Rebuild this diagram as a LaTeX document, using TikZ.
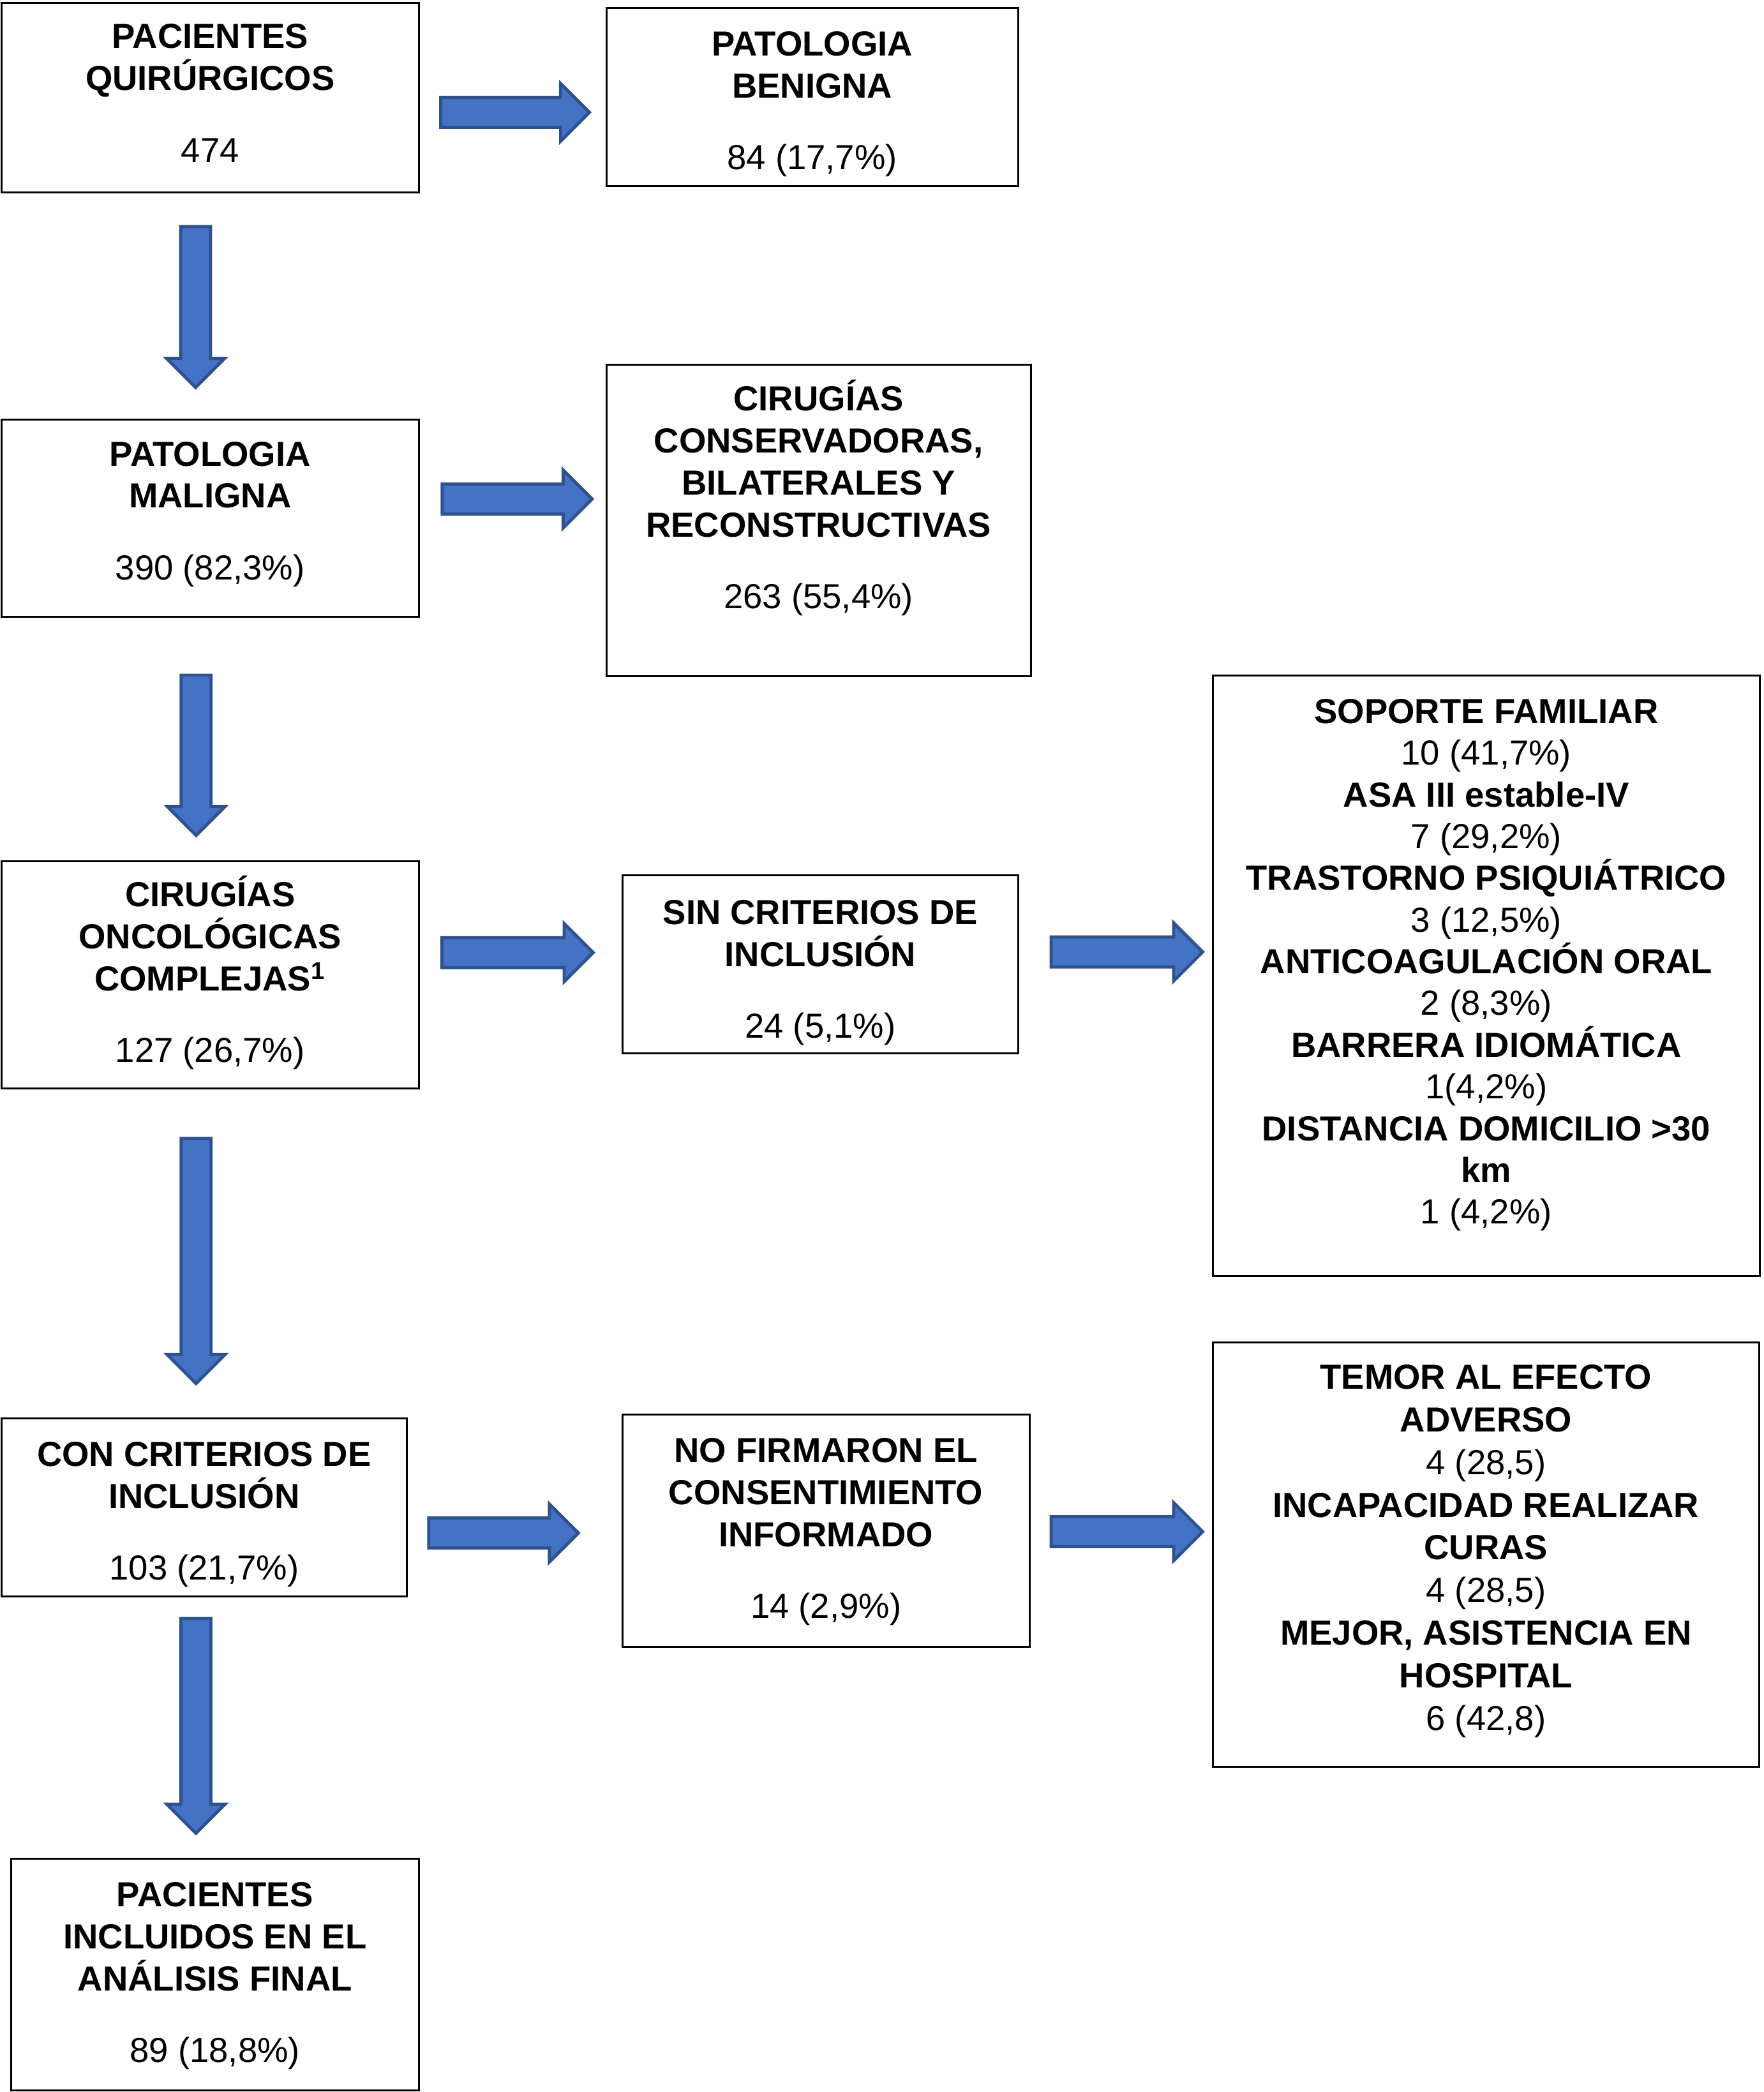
\documentclass[tikz,border=0pt]{standalone}
\usepackage{fontspec}
\setmainfont{Liberation Sans}
\usepackage{tikz}
\usetikzlibrary{positioning, shapes.arrows}
\usepackage{xcolor}
\definecolor{arrowblue}{HTML}{4472C4}
\definecolor{arrowedge}{HTML}{2F528F}

\begin{document}
\begin{tikzpicture}[
    x=0.020908cm, y=-0.020908cm,
    box/.style={rectangle, draw=black, line width=0.85pt, inner sep=0pt},
    txt/.style={align=center, inner sep=0pt, font=\fontsize{15.5}{18.75}\selectfont},
    rarrow/.style={single arrow, draw=arrowedge, fill=arrowblue, line width=1.4pt, inner xsep=0pt, inner ysep=0.21cm, single arrow head extend=0.22cm, minimum height=2.35cm},
    darrow/.style={rarrow, rotate=-90}
]
    \useasboundingbox (0,0) rectangle (1322,1568);

    % Left column
    \node[box, minimum width=6.544cm, minimum height=2.969cm] (quir) at (157.5,73) {};
    \node[txt, below=0.345cm of quir.north] (quirtxt) {\textbf{PACIENTES}\\\textbf{QUIRÚRGICOS}\\[13.2pt]474};

    \node[box, minimum width=6.544cm, minimum height=3.092cm] (malig) at (157.5,388.35) {};
    \node[txt, below=0.355cm of malig.north] (maligtxt) {\textbf{PATOLOGIA}\\\textbf{MALIGNA}\\[13.2pt]390 (82,3\%)};

    \node[box, minimum width=6.544cm, minimum height=3.561cm] (compl) at (157.5,730.85) {};
    \node[txt, below=0.235cm of compl.north] (compltxt) {\textbf{CIRUGÍAS}\\\textbf{ONCOLÓGICAS}\\\textbf{COMPLEJAS\textsuperscript{1}}\\[13.2pt]127 (26,7\%)};

    \node[box, minimum width=6.356cm, minimum height=2.795cm] (concrit) at (153,1129.85) {};
    \node[txt, below=0.380cm of concrit.north] (concrittxt) {\textbf{CON CRITERIOS DE}\\\textbf{INCLUSIÓN}\\[13.2pt]103 (21,7\%)};

    \node[box, minimum width=6.385cm, minimum height=3.638cm] (final) at (161.1,1480) {};
    \node[txt, below=0.380cm of final.north] (finaltxt) {\textbf{PACIENTES}\\\textbf{INCLUIDOS EN EL}\\\textbf{ANÁLISIS FINAL}\\[13.2pt]89 (18,8\%)};

    % Middle column
    \node[box, minimum width=6.450cm, minimum height=2.787cm] (benig) at (608.75,72.65) {};
    \node[txt, below=0.380cm of benig.north] (benigtxt) {\textbf{PATOLOGIA}\\\textbf{BENIGNA}\\[13.2pt]84 (17,7\%)};

    \node[box, minimum width=6.651cm, minimum height=4.874cm] (conserv) at (613.55,390.05) {};
    \node[txt, below=0.245cm of conserv.north] (conservtxt) {\textbf{CIRUGÍAS}\\\textbf{CONSERVADORAS,}\\\textbf{BILATERALES Y}\\\textbf{RECONSTRUCTIVAS}\\[13.2pt]263 (55,4\%)};

    \node[box, minimum width=6.195cm, minimum height=2.793cm] (sincrit) at (614.85,722.8) {};
    \node[txt, below=0.395cm of sincrit.north] (sincrittxt) {\textbf{SIN CRITERIOS DE}\\\textbf{INCLUSIÓN}\\[13.2pt]24 (5,1\%)};

    \node[box, minimum width=6.379cm, minimum height=3.648cm] (nofirma) at (619.05,1147.25) {};
    \node[txt, below=0.380cm of nofirma.north] (nofirmatxt) {\textbf{NO FIRMARON EL}\\\textbf{CONSENTIMIENTO}\\\textbf{INFORMADO}\\[13.2pt]14 (2,9\%)};

    % Right column
    \node[box, minimum width=8.572cm, minimum height=9.411cm] (motivos) at (1114,731.45) {};
    \node[txt, below=0.375cm of motivos.north, font=\fontsize{15.5}{18.6}\selectfont] (motivostxt) {\textbf{SOPORTE FAMILIAR}\\10 (41,7\%)\\\textbf{ASA III estable-IV}\\7 (29,2\%)\\\textbf{TRASTORNO PSIQUIÁTRICO}\\3 (12,5\%)\\\textbf{ANTICOAGULACIÓN ORAL}\\2 (8,3\%)\\\textbf{BARRERA IDIOMÁTICA}\\1(4,2\%)\\\textbf{DISTANCIA DOMICILIO >30}\\\textbf{km}\\1 (4,2\%)};

    \node[box, minimum width=8.562cm, minimum height=6.649cm] (temor) at (1113.75,1165) {};
    \node[txt, below=0.365cm of temor.north, font=\fontsize{15.5}{19}\selectfont] (temortxt) {\textbf{TEMOR AL EFECTO}\\\textbf{ADVERSO}\\4 (28,5)\\\textbf{INCAPACIDAD REALIZAR}\\\textbf{CURAS}\\4 (28,5)\\\textbf{MEJOR, ASISTENCIA EN}\\\textbf{HOSPITAL}\\6 (42,8)};

    % Block arrows
    \node[darrow, minimum height=2.520cm] (d1) at (146.6,224.5) {};
    \node[darrow, minimum height=2.510cm] (d2) at (147,560.5) {};
    \node[darrow, minimum height=3.840cm] (d3) at (147,939.5) {};
    \node[darrow, minimum height=3.365cm] (d4) at (146.8,1288) {};

    \node[rarrow, minimum height=2.33cm] (r1) at (380.5,84.2) {};
    \node[rarrow] (r2) at (382,374) {};
    \node[rarrow, minimum height=2.37cm] (r3) at (382.3,714) {};
    \node[rarrow, minimum height=2.375cm] (r4) at (839,713.5) {};
    \node[rarrow, minimum height=2.345cm] (r5) at (371.8,1149) {};
    \node[rarrow, minimum height=2.375cm] (r6) at (839,1148) {};
\end{tikzpicture}
\end{document}
